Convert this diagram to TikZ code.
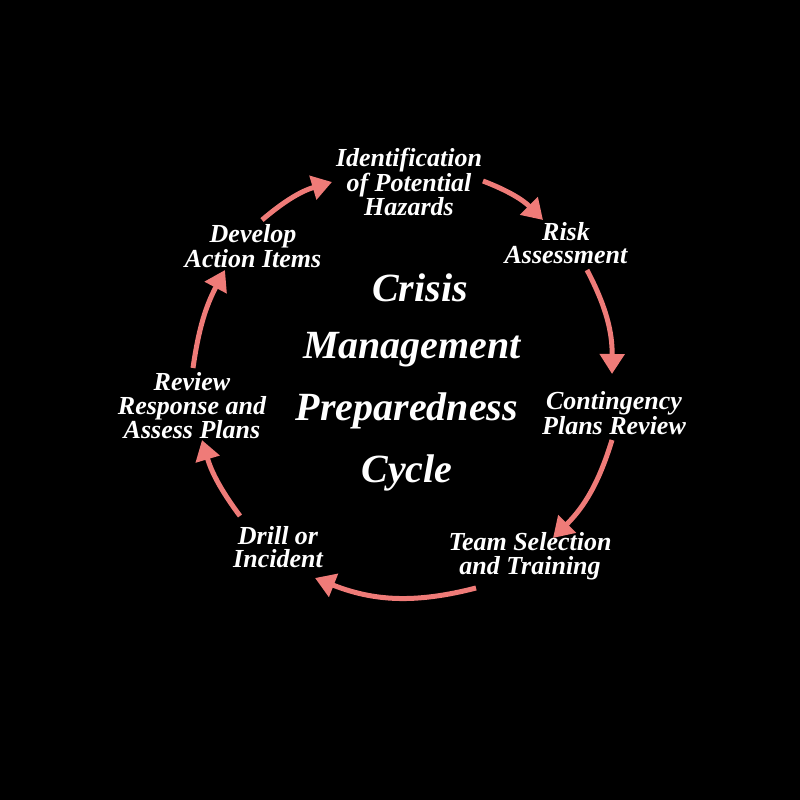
\documentclass[tikz,border=0pt]{standalone}
\usepackage{fontspec}
\setmainfont{Liberation Serif}
\usetikzlibrary{arrows.meta}
\definecolor{arr}{HTML}{EF7B78}
\begin{document}
\begin{tikzpicture}[x=1pt,y=-1pt,
  lbl/.style={text=white,font=\fontsize{26}{23.5}\selectfont\bfseries\itshape,align=center,inner sep=0},
  ttl/.style={text=white,font=\fontsize{40}{40}\selectfont\bfseries\itshape,inner sep=0},
  cyc/.style={draw=arr,line width=5pt,-{Triangle[length=20pt,width=24pt]}}]
\fill[black] (0,0) rectangle (800,800);
\useasboundingbox (0,0) rectangle (800,800);
\node[lbl] (ide) at (409,182) {Identification\\of Potential\\Hazards};
\node[lbl] (ris) at (566,243) {Risk\\Assessment};
\node[lbl] (con) at (614,413) {Contingency\\Plans Review};
\node[lbl] (tea) at (530,556) {Team Selection\\and Training};
\node[lbl] (dri) at (278,547) {Drill or\\Incident};
\node[lbl] (rev) at (192,406) {Review\\Response and\\Assess Plans};
\node[lbl] (dev) at (253,246) {Develop\\Action Items};
\node[ttl] (t1) at (420,288) {Crisis};
\node[ttl] (t2) at (412,350) {Management};
\node[ttl] (t3) at (407,411) {Preparedness};
\node[ttl] (t4) at (407,473) {Cycle};
\coordinate (a1s) at (262,220); \coordinate (a1e) at (332,182);
\coordinate (a2s) at (483,181); \coordinate (a2e) at (543,220);
\coordinate (a3s) at (587,270); \coordinate (a3e) at (612,374);
\coordinate (a4s) at (612,440); \coordinate (a4e) at (553,538);
\coordinate (a5s) at (476,588); \coordinate (a5e) at (315,578);
\coordinate (a6s) at (240,516); \coordinate (a6e) at (202,440);
\coordinate (a7s) at (193,368); \coordinate (a7e) at (225,270);
\draw[cyc] (a1s) to[bend left=12] (a1e);
\draw[cyc] (a2s) to[bend left=12] (a2e);
\draw[cyc] (a3s) to[bend left=14] (a3e);
\draw[cyc] (a4s) to[bend left=14] (a4e);
\draw[cyc] (a5s) to[bend left=18] (a5e);
\draw[cyc] (a6s) to[bend left=10] (a6e);
\draw[cyc] (a7s) to[bend left=10] (a7e);
\end{tikzpicture}
\end{document}
